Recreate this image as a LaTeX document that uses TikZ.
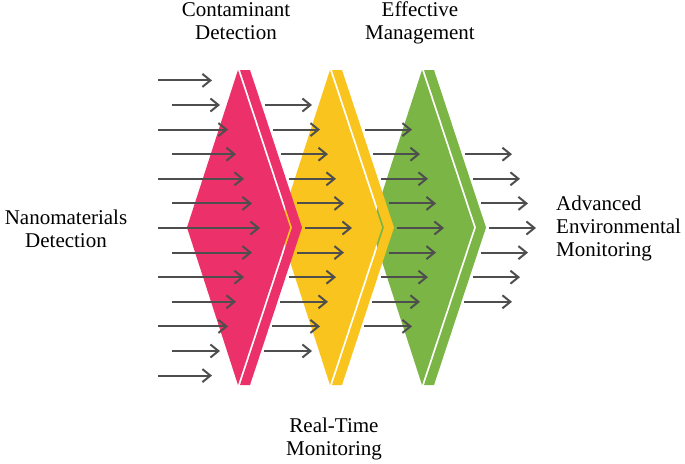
\documentclass[tikz,border=0pt]{standalone}
\usepackage{fontspec}
\setmainfont{Liberation Serif}
\usetikzlibrary{arrows.meta}
\definecolor{cpink}{RGB}{236,48,106}
\definecolor{cyellow}{RGB}{250,196,30}
\definecolor{cgreen}{RGB}{122,181,70}
\definecolor{arrowgray}{RGB}{78,78,78}
\begin{document}
\begin{tikzpicture}[x=1pt,y=-1pt,
  flow/.style={draw=arrowgray, line width=2pt, -{Straight Barb[length=8pt,width=13pt]}},
  lbl/.style={font=\fontsize{21}{23}\selectfont, inner sep=0pt, anchor=base, align=center}]
\useasboundingbox[fill=white] (0,0) rectangle (685,463);
% chevrons, back to front
\foreach \c/\col in {422/cgreen,330/cyellow,238/cpink}{
  \fill[\col] (\c,70) -- (\c+52,227.5) -- (\c,385) -- (\c-51,227.5) -- cycle;
  \fill[\col] (\c+2,70) -- (\c+12,70) -- (\c+64,227.5) -- (\c+12,385) -- (\c+2,385) -- (\c+54,227.5) -- cycle;
}
% first set of arrows
\foreach \i in {0,...,12}{
  \pgfmathsetmacro\yy{228+24.6*(\i-6)}
  \pgfmathsetmacro\xs{mod(\i,2)==0 ? 158 : 172}
  \pgfmathsetmacro\xt{260-8*abs(\i-6)}
  \draw[flow] (\xs,\yy) -- (\xt,\yy);
}
% following sets
\foreach \k in {2,3,4}{
  \pgfmathtruncatemacro\n{7-\k}
  \foreach \j in {-\n,...,\n}{
    \pgfmathsetmacro\yy{228+24.6*\j}
    \pgfmathsetmacro\cc{238+92*(\k-2)}
    \pgfmathsetmacro\xs{\cc+12+52*(1-abs(\yy-227.5)/157.5)+3}
    \pgfmathsetmacro\xt{260-8*abs(\j)+92*(\k-1)}
    \draw[flow] (\xs,\yy) -- (\xt,\yy);
  }
}
% labels (anchor = baseline of the last line)
\node[lbl] (contam) at (236,39) {Contaminant\\Detection};
\node[lbl] (effect) at (420,39) {Effective\\Management};
\node[lbl] (nano) at (66,247) {Nanomaterials\\Detection};
\node[lbl, align=left, anchor=base west] (adv) at (556,256) {Advanced\\Environmental\\Monitoring};
\node[lbl] (rt) at (334,455) {Real-Time\\Monitoring};
\end{tikzpicture}
\end{document}
